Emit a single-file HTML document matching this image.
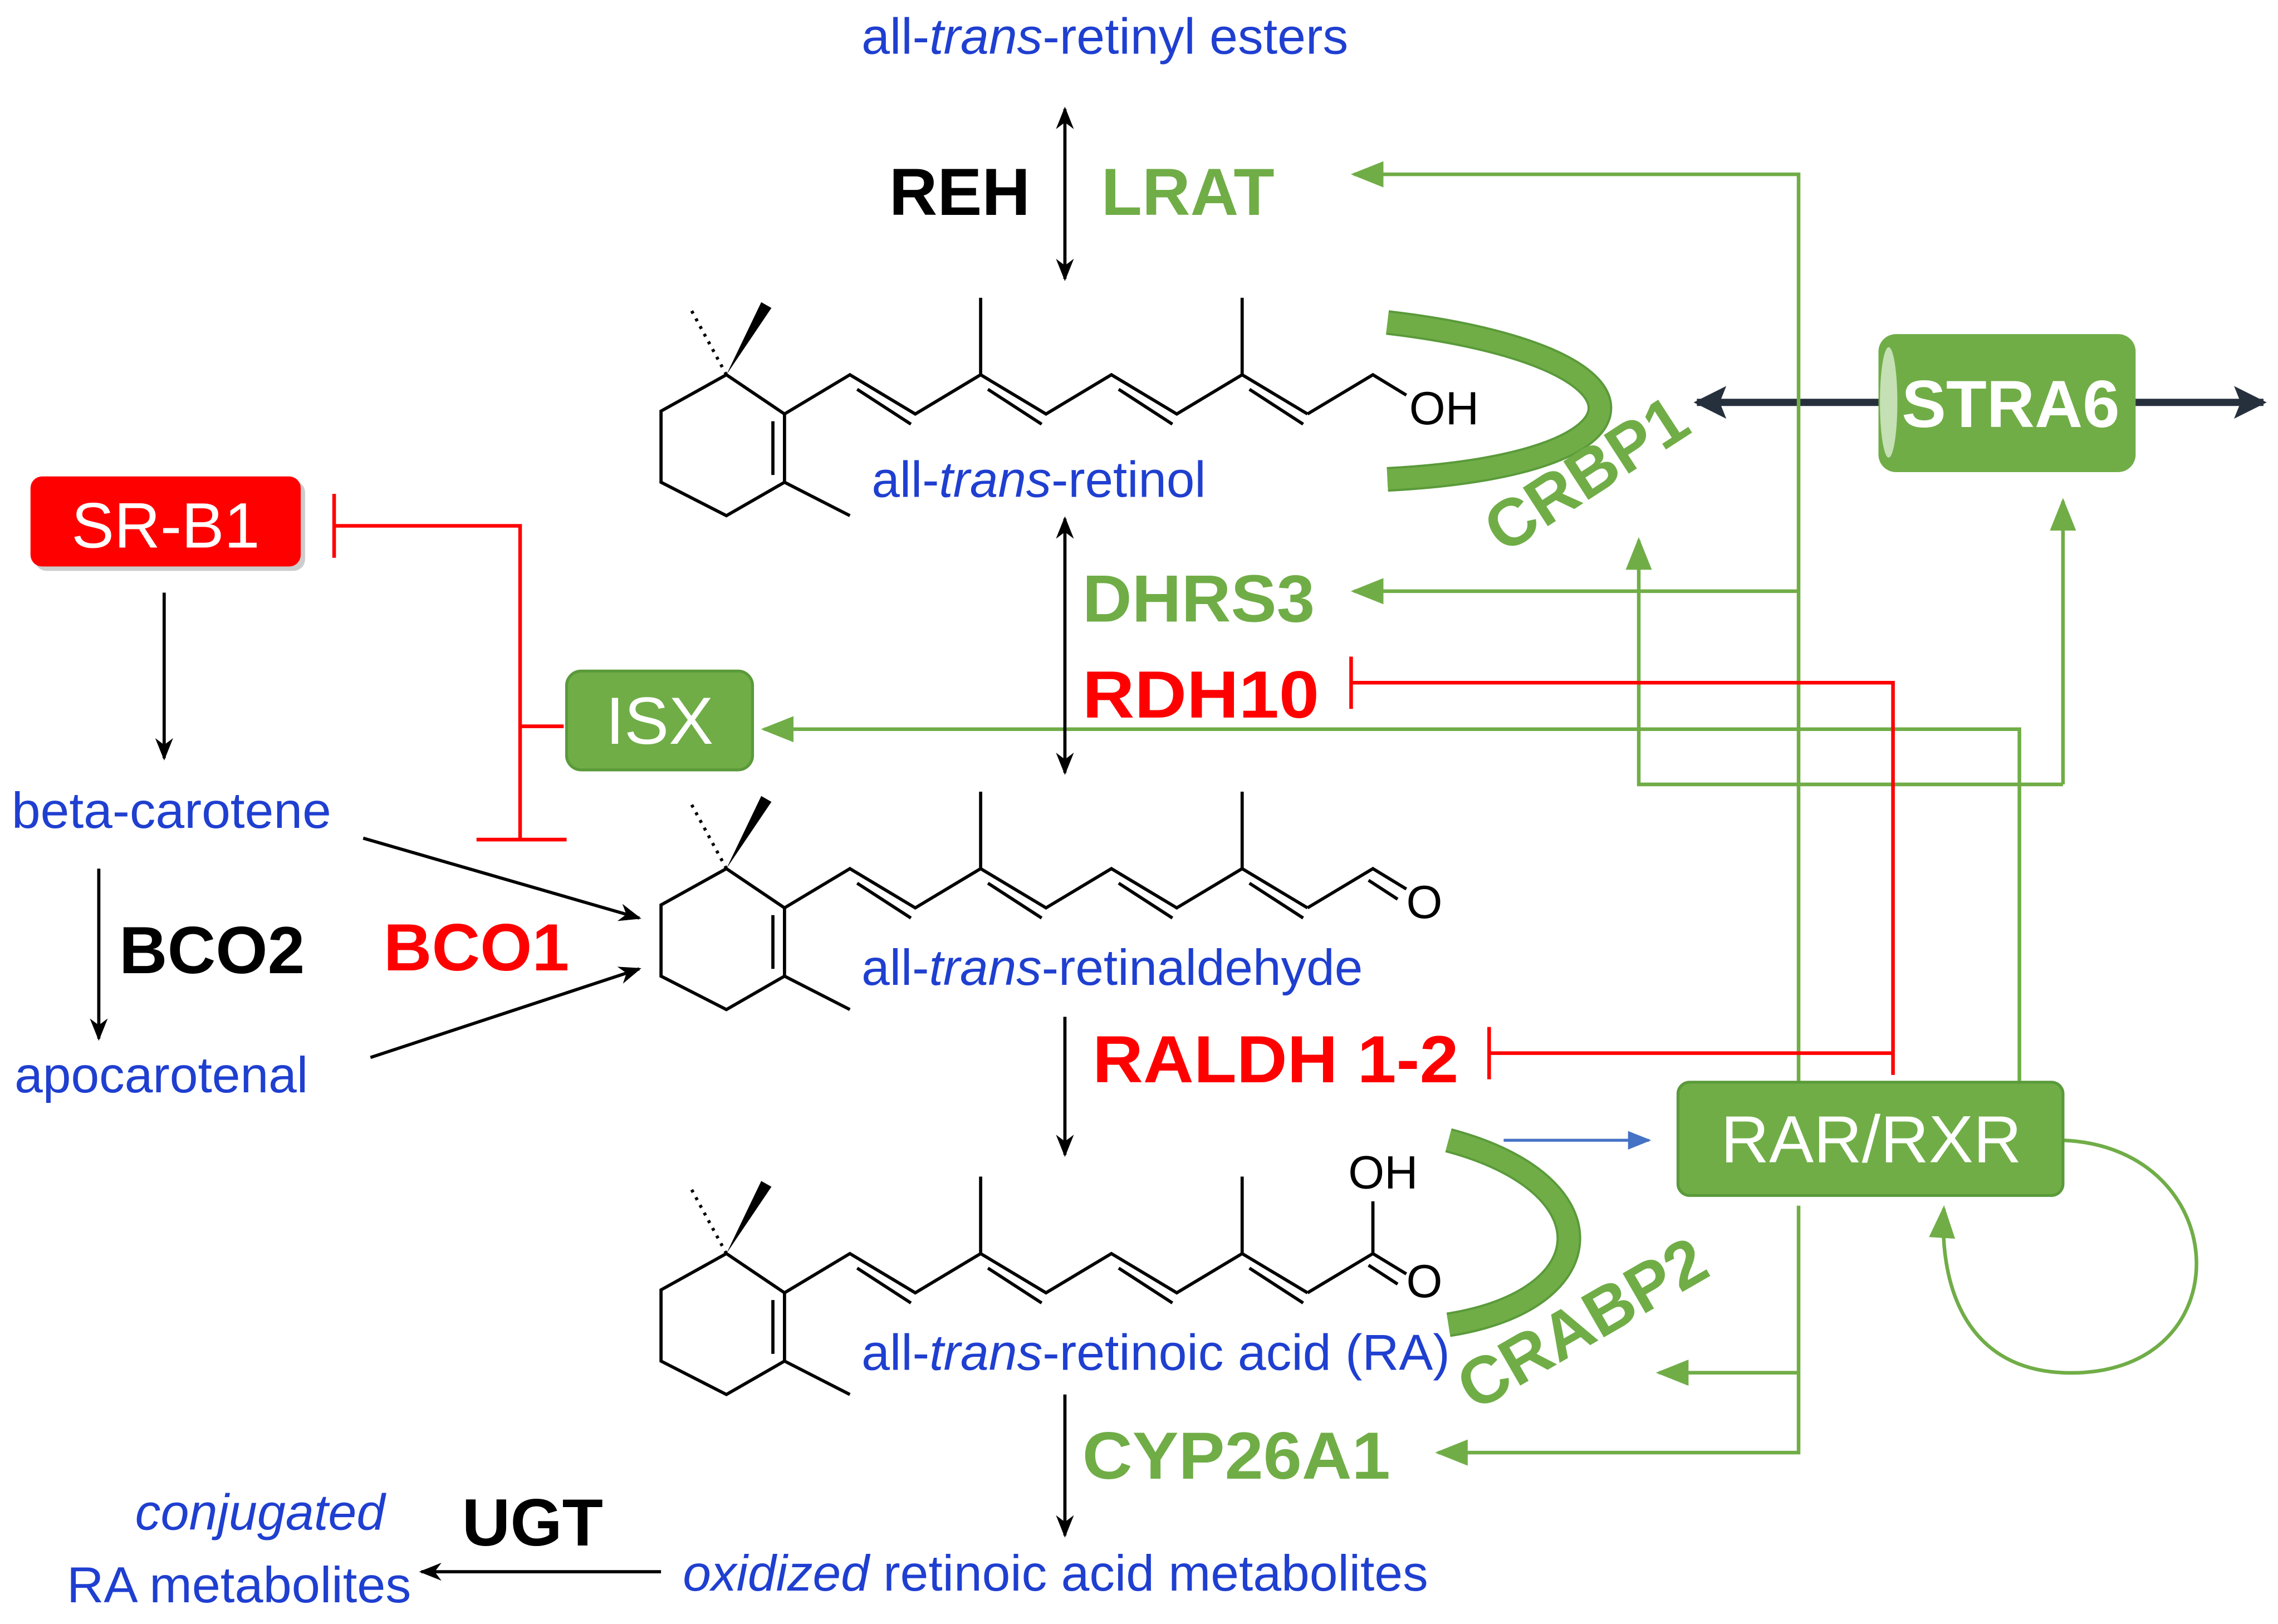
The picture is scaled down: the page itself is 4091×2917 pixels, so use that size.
<!DOCTYPE html>
<html><head><meta charset="utf-8"><style>
html,body{margin:0;padding:0;background:#fff;width:4091px;height:2917px;overflow:hidden}
svg{display:block}
text{font-family:"Liberation Sans",sans-serif}
.bl{fill:#1f3fd0;font-size:35px}
.en{font-weight:bold;font-size:46px}
</style></head><body>
<svg width="4091" height="2917" viewBox="0 0 1568 1118" preserveAspectRatio="none" xmlns="http://www.w3.org/2000/svg">
<defs>
<marker id="ak" viewBox="0 0 10 10" refX="9" refY="5" markerWidth="7" markerHeight="7" orient="auto-start-reverse"><path d="M0,1 L10,5 L0,9 L3,5z" fill="#000"/></marker>
<marker id="ag" viewBox="0 0 10 10" refX="9" refY="5" markerWidth="9" markerHeight="9" orient="auto"><path d="M0,1 L10,5 L0,9z" fill="#70ad47"/></marker>
<marker id="ab" viewBox="0 0 10 10" refX="9" refY="5" markerWidth="8" markerHeight="8" orient="auto"><path d="M0,1 L10,5 L0,9z" fill="#4472c4"/></marker>
<marker id="ad" viewBox="0 0 10 10" refX="9" refY="5" markerWidth="4.5" markerHeight="4.5" orient="auto-start-reverse"><path d="M0,0 L10,5 L0,10 L2,5z" fill="#26303d"/></marker>
</defs>

<!-- molecules -->
<g fill="none" stroke="#000" stroke-width="2.2">
<g>
<path d="M500,258 L540,285 L540,332 L500,355 L455,332 L455,283 Z"/>
<path d="M532,290 L532,327"/>
<path d="M540,332 L585,355"/>
<path d="M500,258 L475,212" stroke-dasharray="2,4"/>
<path d="M540,285 L585,258 L630,285 L675,258 L720,285 L765,258 L810,285 L855,258 L900,285"/>
<path d="M590,268 L627,292 M680,268 L717,292 M770,268 L807,292 M860,268 L897,292"/>
<path d="M675,258 L675,205 M855,258 L855,205"/>
</g>
<polygon points="500,258 524,208 531,212" fill="#000" stroke="none"/>
<path d="M900,285 L945,258 L968,272"/>
<g transform="translate(0,340)">
<path d="M500,258 L540,285 L540,332 L500,355 L455,332 L455,283 Z"/>
<path d="M532,290 L532,327"/>
<path d="M540,332 L585,355"/>
<path d="M500,258 L475,212" stroke-dasharray="2,4"/>
<path d="M540,285 L585,258 L630,285 L675,258 L720,285 L765,258 L810,285 L855,258 L900,285"/>
<path d="M590,268 L627,292 M680,268 L717,292 M770,268 L807,292 M860,268 L897,292"/>
<path d="M675,258 L675,205 M855,258 L855,205"/>
<polygon points="500,258 524,208 531,212" fill="#000" stroke="none"/>
<path d="M900,285 L945,258 L968,272 M942,266 L962,279"/>
</g>
<g transform="translate(0,605)">
<path d="M500,258 L540,285 L540,332 L500,355 L455,332 L455,283 Z"/>
<path d="M532,290 L532,327"/>
<path d="M540,332 L585,355"/>
<path d="M500,258 L475,212" stroke-dasharray="2,4"/>
<path d="M540,285 L585,258 L630,285 L675,258 L720,285 L765,258 L810,285 L855,258 L900,285"/>
<path d="M590,268 L627,292 M680,268 L717,292 M770,268 L807,292 M860,268 L897,292"/>
<path d="M675,258 L675,205 M855,258 L855,205"/>
<polygon points="500,258 524,208 531,212" fill="#000" stroke="none"/>
<path d="M900,285 L945,258 L945,222 M945,258 L968,272 M942,266 L962,279"/>
</g>
</g>
<text x="970" y="292" font-size="32">OH</text>
<text x="968" y="632" font-size="32">O</text>
<text x="928" y="818" font-size="32">OH</text>
<text x="968" y="893" font-size="32">O</text>

<!-- binding proteins -->
<path d="M955,222 C1150,245 1150,320 955,330" fill="none" stroke="#5a9a3a" stroke-width="17"/>
<path d="M955,222 C1150,245 1150,320 955,330" fill="none" stroke="#70ad47" stroke-width="14"/>
<path d="M997,785 C1110,815 1105,895 997,912" fill="none" stroke="#5a9a3a" stroke-width="17"/>
<path d="M997,785 C1110,815 1105,895 997,912" fill="none" stroke="#70ad47" stroke-width="14"/>
<text transform="translate(1035,382) rotate(-33)" font-size="46" font-weight="bold" fill="#70ad47">CRBP1</text>
<text transform="translate(1015,972) rotate(-30)" font-size="46" font-weight="bold" fill="#70ad47">CRABP2</text>

<!-- STRA6 -->
<line x1="1168" y1="277" x2="1558" y2="277" stroke="#26303d" stroke-width="5" marker-start="url(#ad)" marker-end="url(#ad)"/>
<rect x="1293" y="230" width="177" height="95" rx="12" fill="#70ad47"/>
<ellipse cx="1300" cy="277" rx="6" ry="38" fill="#c5e0b4"/>
<text x="1384" y="294" text-anchor="middle" font-size="46" font-weight="bold" fill="#fff" textLength="150" lengthAdjust="spacingAndGlyphs">STRA6</text>

<!-- green regulation lines -->
<g fill="none" stroke="#70ad47" stroke-width="2.5">
<path d="M1238,745 L1238,120 L932,120" marker-end="url(#ag)"/>
<path d="M1238,407 L932,407" marker-end="url(#ag)"/>
<path d="M1238,830 L1238,1000 L990,1000" marker-end="url(#ag)"/>
<path d="M1238,945 L1142,945" marker-end="url(#ag)"/>
<path d="M1390,745 L1390,502 L526,502" marker-end="url(#ag)"/>
<path d="M1420,540 L1420,345" marker-end="url(#ag)"/>
<path d="M1420,540 L1128,540 L1128,372" marker-end="url(#ag)"/>
<path d="M1420,785 C1540,790 1545,950 1420,945 C1350,942 1335,880 1338,832" marker-end="url(#ag)"/>
</g>
<line x1="1035" y1="785" x2="1135" y2="785" stroke="#4472c4" stroke-width="2" marker-end="url(#ab)"/>

<!-- red inhibition -->
<g fill="none" stroke="#ff0000" stroke-width="2.5">
<path d="M1303,740 L1303,470 L930,470 M930,452 L930,488"/>
<path d="M1303,725 L1025,725 M1025,707 L1025,743"/>
<path d="M230,362 L358,362 L358,578 M328,578 L390,578"/>
<path d="M388,500 L358,500"/>
<path d="M230,340 L230,384"/>
</g>

<!-- boxes -->
<rect x="1155" y="745" width="265" height="78" rx="8" fill="#70ad47" stroke="#5a9a3a" stroke-width="2"/>
<text x="1288" y="800" text-anchor="middle" font-size="46" fill="#fff">RAR/RXR</text>
<rect x="390" y="462" width="128" height="68" rx="10" fill="#70ad47" stroke="#5a9a3a" stroke-width="2"/>
<text x="454" y="512" text-anchor="middle" font-size="46" fill="#fff">ISX</text>
<rect x="24" y="331" width="186" height="62" rx="8" fill="#999" opacity="0.5"/>
<rect x="21" y="328" width="186" height="62" rx="8" fill="#ff0000"/>
<text x="114" y="377" text-anchor="middle" font-size="44" fill="#fff">SR-B1</text>

<!-- black arrows -->
<g stroke="#000" stroke-width="2.2" fill="none">
<line x1="733" y1="75" x2="733" y2="192" marker-start="url(#ak)" marker-end="url(#ak)"/>
<line x1="733" y1="357" x2="733" y2="532" marker-start="url(#ak)" marker-end="url(#ak)"/>
<line x1="733" y1="700" x2="733" y2="795" marker-end="url(#ak)"/>
<line x1="733" y1="960" x2="733" y2="1057" marker-end="url(#ak)"/>
<line x1="113" y1="408" x2="113" y2="522" marker-end="url(#ak)"/>
<line x1="68" y1="598" x2="68" y2="715" marker-end="url(#ak)"/>
<line x1="250" y1="577" x2="440" y2="632" marker-end="url(#ak)"/>
<line x1="255" y1="728" x2="440" y2="667" marker-end="url(#ak)"/>
<line x1="455" y1="1082" x2="290" y2="1082" marker-end="url(#ak)"/>
</g>

<!-- labels -->
<text x="593" y="37" class="bl" textLength="335" lengthAdjust="spacingAndGlyphs">all-<tspan font-style="italic">trans</tspan>-retinyl esters</text>
<text x="600" y="342" class="bl" textLength="230" lengthAdjust="spacingAndGlyphs">all-<tspan font-style="italic">trans</tspan>-retinol</text>
<text x="593" y="678" class="bl" textLength="345" lengthAdjust="spacingAndGlyphs">all-<tspan font-style="italic">trans</tspan>-retinaldehyde</text>
<text x="593" y="943" class="bl" textLength="405" lengthAdjust="spacingAndGlyphs">all-<tspan font-style="italic">trans</tspan>-retinoic acid (RA)</text>
<text x="470" y="1095" class="bl" textLength="513" lengthAdjust="spacingAndGlyphs"><tspan font-style="italic">oxidized</tspan> retinoic acid metabolites</text>
<text x="93" y="1053" class="bl" font-style="italic" textLength="172" lengthAdjust="spacingAndGlyphs">conjugated</text>
<text x="46" y="1103" class="bl" textLength="237" lengthAdjust="spacingAndGlyphs">RA metabolites</text>
<text x="8" y="570" class="bl" textLength="220" lengthAdjust="spacingAndGlyphs">beta-carotene</text>
<text x="10" y="752" class="bl" textLength="202" lengthAdjust="spacingAndGlyphs">apocarotenal</text>

<text x="612" y="148" class="en" fill="#000">REH</text>
<text x="758" y="148" class="en" fill="#70ad47">LRAT</text>
<text x="745" y="428" class="en" fill="#70ad47" textLength="160" lengthAdjust="spacingAndGlyphs">DHRS3</text>
<text x="745" y="494" class="en" fill="#ff0000" textLength="163" lengthAdjust="spacingAndGlyphs">RDH10</text>
<text x="752" y="745" class="en" fill="#ff0000" textLength="252" lengthAdjust="spacingAndGlyphs">RALDH 1-2</text>
<text x="745" y="1018" class="en" fill="#70ad47" textLength="212" lengthAdjust="spacingAndGlyphs">CYP26A1</text>
<text x="318" y="1064" class="en" fill="#000">UGT</text>
<text x="82" y="670" class="en" fill="#000">BCO2</text>
<text x="264" y="668" class="en" fill="#ff0000">BCO1</text>
</svg>
</body></html>
